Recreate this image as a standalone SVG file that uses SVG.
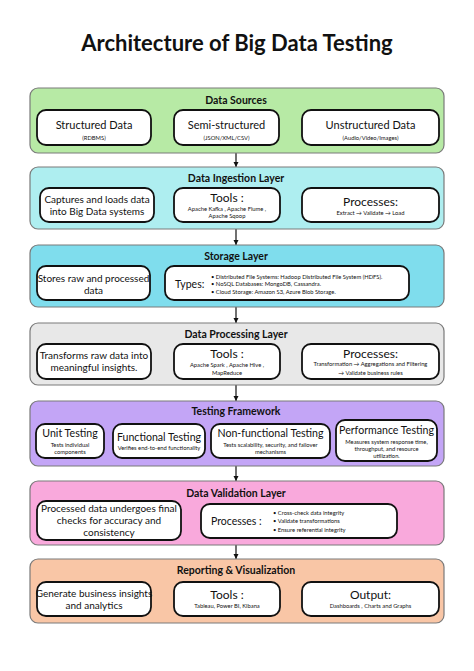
<svg xmlns="http://www.w3.org/2000/svg" width="474" height="671" viewBox="0 0 474 671">
<defs>
<marker id="arr" markerWidth="6" markerHeight="6" refX="5" refY="3" orient="auto" markerUnits="userSpaceOnUse">
<path d="M0,0.5 L5,3 L0,5.5 z" fill="#111"/>
</marker>
<style>
text{font-family:Lato,"DejaVu Sans","Liberation Sans",sans-serif;fill:#111;dominant-baseline:central}
.layer{stroke:#7a7a7a;stroke-width:1.2}
.box{fill:#fff;stroke:#111;stroke-width:1.8}
.ttl{font-size:10.5px;font-weight:700;text-anchor:middle}
.m{font-size:10px;text-anchor:middle}
.h{font-size:12px;text-anchor:middle}
.s{font-size:5.8px;text-anchor:middle}
.b{font-size:5.8px}
.t{font-size:10.6px;text-anchor:middle}
.conn{stroke:#111;stroke-width:1.2;fill:none}
</style>
</defs>
<rect width="474" height="671" fill="#fff"/>
<text x="237" y="42" style="font-size:22px;font-weight:700;text-anchor:middle">Architecture of Big Data Testing</text>

<g id="connectors">
<line class="conn" x1="236" y1="153" x2="236" y2="167" marker-end="url(#arr)"/>
<line class="conn" x1="236" y1="229" x2="236" y2="245" marker-end="url(#arr)"/>
<line class="conn" x1="236" y1="307" x2="236" y2="323" marker-end="url(#arr)"/>
<line class="conn" x1="236" y1="385" x2="236" y2="401" marker-end="url(#arr)"/>
<line class="conn" x1="236" y1="466" x2="236" y2="481" marker-end="url(#arr)"/>
<line class="conn" x1="236" y1="545" x2="236" y2="559" marker-end="url(#arr)"/>
</g>

<g id="data-sources">
<rect class="layer" x="30" y="88" width="414" height="65" rx="8" fill="#b7eaa5"/>
<text class="ttl" x="236" y="100">Data Sources</text>
<rect class="box" x="37" y="110" width="114" height="35" rx="9"/>
<text class="m" x="94" y="124" style="font-size:11px">Structured Data</text>
<text class="s" x="94" y="137">(RDBMS)</text>
<rect class="box" x="174" y="110" width="105" height="35" rx="9"/>
<text class="m" x="226.5" y="124" style="font-size:11px">Semi-structured</text>
<text class="s" x="226.5" y="137">(JSON/XML/CSV)</text>
<rect class="box" x="302" y="110" width="137" height="35" rx="9"/>
<text class="m" x="370.5" y="124" style="font-size:11px">Unstructured Data</text>
<text class="s" x="370.5" y="137">(Audio/Video/Images)</text>
</g>

<g id="data-ingestion">
<rect class="layer" x="30" y="167" width="414" height="62" rx="8" fill="#aeeef0"/>
<text class="ttl" x="236" y="178">Data Ingestion Layer</text>
<rect class="box" x="40" y="188" width="114" height="34" rx="9"/>
<text class="m" x="97" y="199">Captures and loads data</text>
<text class="m" x="97" y="211">into Big Data systems</text>
<rect class="box" x="174" y="188" width="106" height="34" rx="9"/>
<text class="h" x="227" y="197">Tools :</text>
<text class="s" x="227" y="208">Apache Kafka , Apache Flume ,</text>
<text class="s" x="227" y="215">Apache Sqoop</text>
<rect class="box" x="302" y="188" width="137" height="34" rx="9"/>
<text class="h" x="370.5" y="201">Processes:</text>
<text class="s" x="370.5" y="212">Extract → Validate → Load</text>
</g>

<g id="storage">
<rect class="layer" x="30" y="245" width="414" height="62" rx="8" fill="#7fdded"/>
<text class="ttl" x="236" y="256">Storage Layer</text>
<rect class="box" x="37" y="266" width="113" height="34" rx="9"/>
<text class="m" x="93.5" y="278">Stores raw and processed</text>
<text class="m" x="93.5" y="290">data</text>
<rect class="box" x="165" y="266" width="244" height="34" rx="9"/>
<text x="175" y="284" style="font-size:10.5px">Types:</text>
<text class="b" x="211" y="276">• Distributed File Systems: Hadoop Distributed File System (HDFS).</text>
<text class="b" x="211" y="283.5">• NoSQL Databases: MongoDB, Cassandra.</text>
<text class="b" x="211" y="291">• Cloud Storage: Amazon S3, Azure Blob Storage.</text>
</g>

<g id="data-processing">
<rect class="layer" x="30" y="323" width="414" height="62" rx="8" fill="#e8e8e8"/>
<text class="ttl" x="236" y="334">Data Processing Layer</text>
<rect class="box" x="37" y="344" width="114" height="35" rx="9"/>
<text class="m" x="94" y="355">Transforms raw data into</text>
<text class="m" x="94" y="367">meaningful insights.</text>
<rect class="box" x="174" y="344" width="106" height="35" rx="9"/>
<text class="h" x="227" y="353">Tools :</text>
<text class="s" x="227" y="364">Apache Spark , Apache Hive ,</text>
<text class="s" x="227" y="372">MapReduce</text>
<rect class="box" x="302" y="344" width="137" height="35" rx="9"/>
<text class="h" x="370.5" y="353">Processes:</text>
<text class="s" x="370.5" y="363.5">Transformation → Aggregations and Filtering</text>
<text class="s" x="370.5" y="372">→ Validate business rules</text>
</g>

<g id="testing-framework">
<rect class="layer" x="30" y="401" width="414" height="65" rx="8" fill="#c3a5f6"/>
<text class="ttl" x="236" y="411">Testing Framework</text>
<rect class="box" x="36" y="424" width="68" height="34" rx="9"/>
<text class="t" x="70" y="433">Unit Testing</text>
<text class="s" x="70" y="444">Tests individual</text>
<text class="s" x="70" y="451">components</text>
<rect class="box" x="113" y="424" width="92" height="34" rx="9"/>
<text class="t" x="159" y="437">Functional Testing</text>
<text class="s" x="159" y="447">Verifies end-to-end functionality</text>
<rect class="box" x="211" y="424" width="119" height="34" rx="9"/>
<text class="t" x="270.5" y="433">Non-functional Testing</text>
<text class="s" x="270.5" y="444">Tests scalability, security, and failover</text>
<text class="s" x="270.5" y="451">mechanisms</text>
<rect class="box" x="336" y="420" width="101" height="41" rx="9"/>
<text class="t" x="386.5" y="430">Performance Testing</text>
<text class="s" x="386.5" y="441">Measures system response time,</text>
<text class="s" x="386.5" y="448">throughput, and resource</text>
<text class="s" x="386.5" y="455">utilization.</text>
</g>

<g id="data-validation">
<rect class="layer" x="30" y="481" width="414" height="64" rx="8" fill="#f9a9dc"/>
<text class="ttl" x="236" y="493">Data Validation Layer</text>
<rect class="box" x="37" y="501" width="144" height="39" rx="9"/>
<text class="m" x="109" y="508">Processed data undergoes final</text>
<text class="m" x="109" y="520">checks for accuracy and</text>
<text class="m" x="109" y="532">consistency</text>
<rect class="box" x="201" y="504" width="196" height="34" rx="9"/>
<text x="211" y="521" style="font-size:10.5px">Processes :</text>
<text class="b" x="273" y="512">• Cross-check data integrity</text>
<text class="b" x="273" y="520.5">• Validate transformations</text>
<text class="b" x="273" y="529">• Ensure referential integrity</text>
</g>

<g id="reporting">
<rect class="layer" x="30" y="559" width="414" height="64" rx="8" fill="#f9c6a6"/>
<text class="ttl" x="236" y="570">Reporting &amp; Visualization</text>
<rect class="box" x="37" y="582" width="114" height="34" rx="9"/>
<text class="m" x="94" y="593">Generate business insights</text>
<text class="m" x="94" y="605">and analytics</text>
<rect class="box" x="174" y="582" width="106" height="34" rx="9"/>
<text class="h" x="227" y="594">Tools :</text>
<text class="s" x="227" y="605">Tableau, Power BI, Kibana</text>
<rect class="box" x="302" y="582" width="137" height="34" rx="9"/>
<text class="h" x="370.5" y="594">Output:</text>
<text class="s" x="370.5" y="605">Dashboards , Charts and Graphs</text>
</g>
</svg>
